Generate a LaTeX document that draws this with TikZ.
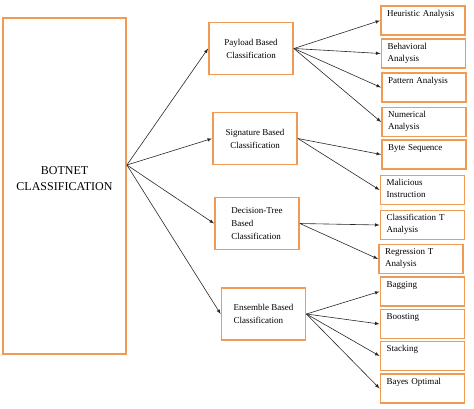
\documentclass[tikz,border=0pt]{standalone}
\usepackage{fontspec}
\setmainfont{Liberation Serif}
\definecolor{botorange}{RGB}{241,154,84}
\definecolor{botarrow}{RGB}{40,40,40}
\usetikzlibrary{positioning}
\tikzset{
  box/.style={draw=botorange, line width=1.8pt, fill=white},
  root/.style={box, minimum width=123pt, minimum height=336pt},
  group/.style={box, minimum width=84pt, minimum height=52pt,
    font=\fontsize{9}{13}\selectfont},
  leaf/.style={box, text width=72pt, align=left, inner xsep=6pt, inner ysep=2pt,
    text height=8pt, text depth=17pt, font=\fontsize{9}{12}\selectfont},
  link/.style={-latex, botarrow, line width=0.6pt}
}

\begin{document}
\begin{tikzpicture}[x=1pt, y=-1pt]
  \useasboundingbox (0,0) rectangle (474,408);

  % main box
  \node [root, label={[yshift=7pt, align=center, font=\fontsize{12}{16}\selectfont]center:BOTNET\\CLASSIFICATION}]
    (botnet) at (64.5,186) {};
  \coordinate (hub) at ([yshift=21pt]botnet.east);

  % second level
  \node [group, align=center] (payload) at (251,48.5) {Payload Based\\Classification};
  \node [group, align=center] (signature) at (255,138.5) {Signature Based\\Classification};
  \node [group, align=left] (decision) at (257,223.5) {Decision-Tree\\Based\\Classification};
  \node [group, align=left] (ensemble) at (263.5,314) {Ensemble Based\\Classification};

  % third level
  \node [leaf] (heuristic) at (423,20.5) {Heuristic Analysis};
  \node [leaf] (behavioral) at (423.5,53.5) {Behavioral\\Analysis};
  \node [leaf] (pattern) at (424,87.5) {Pattern Analysis};
  \node [leaf] (numerical) at (424,122) {Numerical\\Analysis};
  \node [leaf] (bytes) at (424,154.5) {Byte Sequence};
  \node [leaf] (malicious) at (422.5,190) {Malicious\\Instruction};
  \node [leaf] (classtree) at (422.5,225) {Classification T\\Analysis};
  \node [leaf] (regtree) at (421,259) {Regression T\\Analysis};
  \node [leaf] (bagging) at (422.5,291.5) {Bagging};
  \node [leaf] (boosting) at (422.5,324) {Boosting};
  \node [leaf] (stacking) at (422.5,356) {Stacking};
  \node [leaf] (bayes) at (422.5,388.5) {Bayes Optimal};

  % connectors
  \foreach \g in {payload, signature, decision, ensemble} {
    \draw [link] (hub) -- (\g.west);
  }
  \foreach \p/\c in {payload/heuristic, payload/behavioral, payload/pattern, payload/numerical,
                     signature/bytes, signature/malicious,
                     decision/classtree, decision/regtree,
                     ensemble/bagging, ensemble/boosting, ensemble/stacking, ensemble/bayes} {
    \draw [link] (\p.east) -- (\c.west);
  }
\end{tikzpicture}
\end{document}
